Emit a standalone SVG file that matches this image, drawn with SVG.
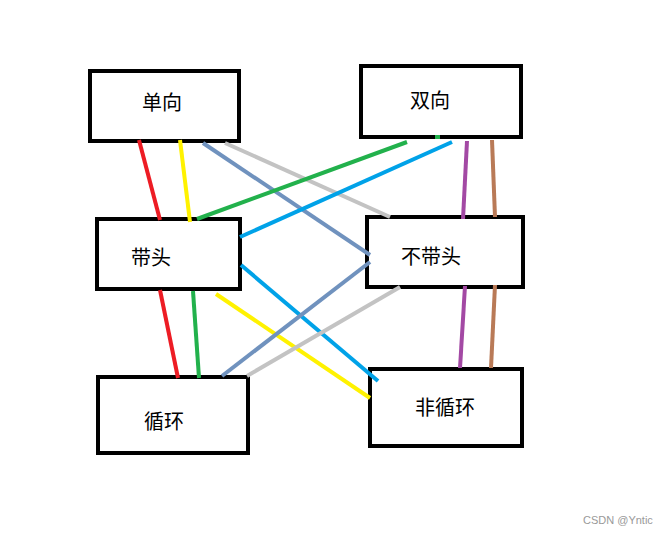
<svg xmlns="http://www.w3.org/2000/svg" width="663" height="534" viewBox="0 0 663 534">
<style>
.b{fill:#fff;stroke:#000;stroke-width:4}
.t{font-family:"Noto Sans CJK SC",sans-serif;font-size:20px;fill:#000}
.c line{stroke-width:4;stroke-linecap:butt}
</style>
<rect width="663" height="534" fill="#fff"/>
<g id="n1"><rect class="b" x="90" y="71" width="149" height="70"/><text class="t" x="142" y="110">单向</text></g>
<g id="n2"><rect class="b" x="361" y="66" width="160" height="71"/><text class="t" x="410" y="108">双向</text></g>
<g id="n3"><rect class="b" x="97" y="219" width="143" height="70"/><text class="t" x="131" y="265">带头</text></g>
<g id="n4"><rect class="b" x="367" y="217" width="156" height="70"/><text class="t" x="401" y="264">不带头</text></g>
<g id="n5"><rect class="b" x="98" y="377" width="150" height="76"/><text class="t" x="144" y="429">循环</text></g>
<g id="n6"><rect class="b" x="370" y="369" width="152" height="77"/><text class="t" x="415" y="415">非循环</text></g>
<g class="c" id="connectors">
<line x1="139" y1="140" x2="160" y2="220" stroke="#ed1c24"/>
<line x1="180" y1="140" x2="190" y2="222" stroke="#fff200"/>
<line x1="203" y1="143" x2="370" y2="255" stroke="#7092be"/>
<line x1="225" y1="143" x2="390" y2="217" stroke="#c3c3c3"/>
<line x1="197" y1="219" x2="407" y2="142" stroke="#22b14c"/>
<line x1="240" y1="237" x2="452" y2="142" stroke="#00a2e8"/>
<line x1="467" y1="141" x2="463" y2="219" stroke="#a349a4"/>
<line x1="492" y1="140" x2="495" y2="217" stroke="#b97a57"/>
<line x1="160" y1="290" x2="178" y2="378" stroke="#ed1c24"/>
<line x1="193" y1="291" x2="199" y2="378" stroke="#22b14c"/>
<line x1="216" y1="294" x2="370" y2="398" stroke="#fff200"/>
<line x1="241" y1="265" x2="378" y2="381" stroke="#00a2e8"/>
<line x1="222" y1="376" x2="370" y2="262" stroke="#7092be"/>
<line x1="247" y1="376" x2="400" y2="287" stroke="#c3c3c3"/>
<line x1="465" y1="286" x2="460" y2="368" stroke="#a349a4"/>
<line x1="495" y1="285" x2="491" y2="368" stroke="#b97a57"/>
<line x1="435" y1="137" x2="440" y2="137" stroke="#22b14c"/>
</g>
<text x="583" y="524" style="font-family:'Liberation Sans',sans-serif;font-size:11px;fill:#999">CSDN @Yntic</text>
</svg>
